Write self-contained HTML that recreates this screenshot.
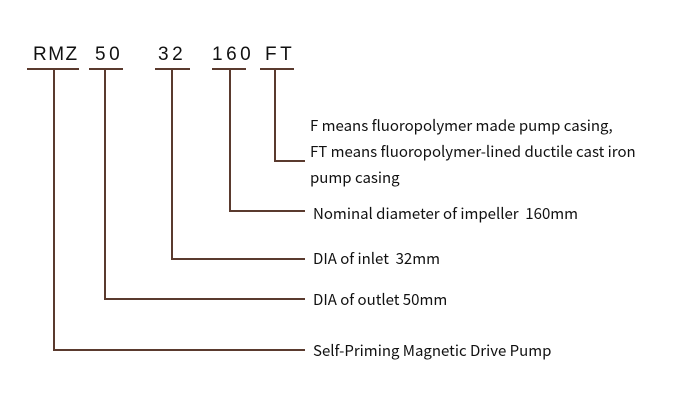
<!DOCTYPE html>
<html><head><meta charset="utf-8"><style>
body{margin:0;background:#fff;}
svg text{font-family:"Liberation Sans","Noto Sans CJK SC",sans-serif;}
svg .lbl{font-family:"Noto Sans CJK SC","Liberation Sans",sans-serif;}
</style></head><body>
<svg width="700" height="408" viewBox="0 0 700 408" xmlns="http://www.w3.org/2000/svg">
<g fill="#111" font-size="19" letter-spacing="3.5">
<text x="33" y="60" letter-spacing="1.5">RMZ</text>
<text x="95" y="60">50</text>
<text x="158" y="60">32</text>
<text x="212" y="60">160</text>
<text x="265" y="60">FT</text>
</g>
<g stroke="#5a3a2e" stroke-width="2" fill="none">
<line x1="27" y1="69" x2="79" y2="69"/>
<line x1="89" y1="69" x2="123" y2="69"/>
<line x1="155" y1="69" x2="190" y2="69"/>
<line x1="212" y1="69" x2="246" y2="69"/>
<line x1="260" y1="69" x2="294" y2="69"/>
<polyline points="275,69 275,161 305,161"/>
<polyline points="230,69 230,211 305,211"/>
<polyline points="172,69 172,259 305,259"/>
<polyline points="105,69 105,299 305,299"/>
<polyline points="54,69 54,350 305,350"/>
</g>
<g fill="#111" font-size="15">
<text class="lbl" x="310" y="131">F means fluoropolymer made pump casing,</text>
<text class="lbl" x="310" y="157">FT means fluoropolymer-lined ductile cast iron</text>
<text class="lbl" x="310" y="183">pump casing</text>
<text class="lbl" x="313" y="219" xml:space="preserve">Nominal diameter of impeller  160mm</text>
<text class="lbl" x="313" y="264" xml:space="preserve">DIA of inlet  32mm</text>
<text class="lbl" x="313" y="305">DIA of outlet 50mm</text>
<text class="lbl" x="313" y="356">Self-Priming Magnetic Drive Pump</text>
</g>
</svg>
</body></html>
